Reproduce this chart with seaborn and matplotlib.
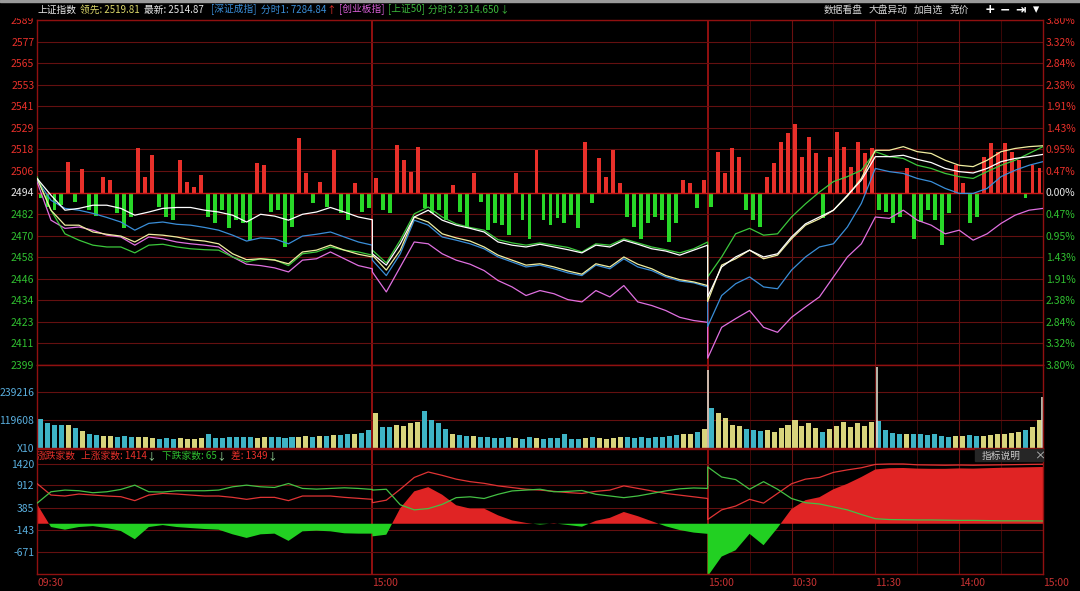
import numpy as np
import pandas as pd
import seaborn as sns
import matplotlib.pyplot as plt
from matplotlib.patches import Rectangle

# ---------------- data ----------------
# index lines: % change vs 2494, read every 10 minutes, 3 sessions x 25 points
line_minutes = [0, 10, 20, 30, 40, 50, 60, 70, 80, 90, 100, 110, 120,
                130, 140, 150, 160, 170, 180, 190, 200, 210, 220, 230, 240]

sh_index = [0.31, -0.06, -0.39, -0.35, -0.28, -0.28, -0.35, -0.50, -0.43, -0.35, -0.33, -0.33, -0.39,
            -0.43, -0.50, -0.65, -0.48, -0.52, -0.61, -0.48, -0.43, -0.33, -0.43, -0.54, -0.60,
            -1.35, -1.60, -1.13, -0.54, -0.39, -0.61, -0.72, -0.79, -0.87, -1.09, -1.16, -1.20, -1.14,
            -1.20, -1.26, -1.33, -1.16, -1.20, -1.05, -1.14, -1.24, -1.29, -1.38, -1.27, -1.16,
            -2.30, -1.64, -1.42, -1.27, -1.42, -1.35, -0.98, -0.69, -0.54, -0.39, -0.06, 0.27, 0.79,
            0.79, 0.82, 0.73, 0.66, 0.53, 0.46, 0.43, 0.53, 0.68, 0.75, 0.79, 0.84]
lead_index = [0.31, -0.39, -0.72, -0.72, -0.87, -0.92, -0.96, -1.09, -0.92, -0.94, -0.98, -1.04, -1.07,
              -1.13, -1.35, -1.48, -1.46, -1.49, -1.57, -1.31, -1.27, -1.16, -1.27, -1.36, -1.42,
              -1.38, -1.71, -1.27, -0.54, -0.65, -0.91, -1.00, -1.07, -1.20, -1.38, -1.49, -1.60, -1.57,
              -1.64, -1.73, -1.80, -1.57, -1.64, -1.42, -1.58, -1.68, -1.83, -1.92, -1.97, -2.05,
              -2.40, -1.60, -1.46, -1.27, -1.46, -1.38, -1.02, -0.72, -0.58, -0.39, -0.08, 0.31, 0.93,
              0.93, 1.01, 0.90, 0.86, 0.71, 0.60, 0.57, 0.71, 0.90, 0.97, 1.01, 1.03]
sz_index = [0.27, -0.17, -0.35, -0.39, -0.46, -0.55, -0.65, -0.83, -0.68, -0.65, -0.70, -0.72, -0.77,
            -0.83, -0.94, -1.07, -1.00, -1.02, -1.13, -0.96, -0.92, -0.87, -0.98, -1.09, -1.16,
            -1.49, -1.83, -1.35, -0.61, -0.72, -0.98, -1.05, -1.13, -1.24, -1.42, -1.53, -1.64, -1.60,
            -1.68, -1.77, -1.83, -1.60, -1.68, -1.46, -1.64, -1.72, -1.86, -1.95, -1.99, -2.08,
            -2.95, -2.27, -2.01, -1.86, -2.08, -2.12, -1.71, -1.42, -1.20, -1.13, -0.76, -0.24, 0.53,
            0.46, 0.42, 0.31, 0.24, 0.09, -0.02, -0.02, 0.09, 0.35, 0.49, 0.60, 0.68]
cyb_index = [0.24, -0.61, -0.79, -0.76, -0.83, -0.94, -0.98, -1.16, -0.98, -1.02, -1.09, -1.13, -1.16,
             -1.20, -1.42, -1.58, -1.61, -1.66, -1.75, -1.49, -1.46, -1.31, -1.46, -1.61, -1.68,
             -1.75, -2.19, -1.64, -1.09, -1.13, -1.35, -1.49, -1.58, -1.72, -1.94, -2.08, -2.27, -2.16,
             -2.23, -2.36, -2.41, -2.16, -2.30, -2.05, -2.41, -2.49, -2.60, -2.75, -2.82, -2.86,
             -3.65, -2.97, -2.78, -2.60, -2.97, -3.08, -2.75, -2.52, -2.30, -1.86, -1.42, -1.13, -0.54,
             -0.57, -0.39, -0.61, -0.72, -0.91, -0.83, -1.05, -0.91, -0.68, -0.50, -0.39, -0.35]
sz50_index = [0.35, -0.39, -0.91, -1.05, -1.16, -1.20, -1.20, -1.33, -1.16, -1.14, -1.20, -1.24, -1.26,
              -1.27, -1.42, -1.53, -1.46, -1.48, -1.61, -1.35, -1.31, -1.20, -1.27, -1.31, -1.38,
              -1.27, -1.55, -1.05, -0.47, -0.32, -0.54, -0.69, -0.77, -0.83, -1.04, -1.11, -1.16, -1.11,
              -1.16, -1.21, -1.31, -1.13, -1.16, -1.02, -1.11, -1.20, -1.26, -1.33, -1.24, -1.09,
              -1.86, -1.42, -0.91, -0.79, -0.94, -0.91, -0.54, -0.25, 0.01, 0.24, 0.35, 0.49, 0.90,
              0.79, 0.75, 0.60, 0.53, 0.42, 0.35, 0.31, 0.46, 0.60, 0.71, 0.86, 1.01]

# red/green strength bars (% units), 5-minute bins, 48 per session
strength_bars = [
    -0.13, -0.32, -0.39, -0.28, 0.68, -0.21, 0.51, -0.39, -0.52, 0.35, 0.27, -0.46,
    -0.79, -0.54, 0.97, 0.35, 0.82, -0.32, -0.54, -0.61, 0.71, 0.24, 0.13, 0.38,
    -0.54, -0.68, -0.39, -0.79, -0.61, -0.68, -1.05, 0.64, 0.60, -0.43, -0.39, -1.20,
    -0.76, 1.19, 0.42, -0.24, 0.24, -0.32, 0.93, -0.46, -0.61, 0.20, -0.43, -0.35,
    0.31, -0.39, -0.45, 1.05, 0.71, 0.46, 1.01, -0.35, -0.46, -0.39, -0.61, 0.16,
    -0.43, -0.79, 0.42, -0.21, -0.83, -0.68, -0.72, -0.94, 0.42, -0.61, -1.02, 0.93,
    -0.61, -0.72, -0.57, -0.68, -0.50, -0.79, 1.12, -0.24, 0.75, 0.35, 0.93, 0.20,
    -0.54, -0.76, -1.02, -0.68, -0.54, -0.61, -1.09, -0.68, 0.27, 0.20, -0.35, 0.27,
    -0.32, 0.90, 0.42, 0.97, 0.79, -0.39, -0.61, -0.76, 0.35, 0.64, 1.12, 1.30,
    1.52, 0.79, 1.23, 0.86, -0.57, 0.79, 1.34, 1.01, 0.57, 1.12, 0.86, 0.97,
    -0.39, -0.43, -0.68, -0.54, 0.53, -1.02, -0.65, -0.39, -0.61, -1.16, -0.46, 0.60,
    0.20, -0.68, -0.54, 0.79, 1.08, 0.90, 1.08, 0.90, 0.71, -0.13, 0.60, 0.53]

# volume (thousands, X10), 5-minute bins
volume_k = [
    125, 105, 100, 98, 100, 85, 72, 62, 55, 52, 50, 48,
    50, 47, 48, 45, 42, 40, 44, 40, 42, 38, 40, 42,
    60, 42, 44, 46, 45, 48, 46, 44, 46, 45, 48, 44,
    46, 45, 50, 48, 52, 50, 55, 54, 58, 60, 65, 75,
    150, 90, 88, 100, 95, 105, 110, 160, 120, 105, 80, 62,
    55, 52, 50, 48, 46, 44, 42, 45, 42, 40, 45, 42,
    40, 44, 42, 60, 40, 40, 42, 45, 44, 40, 42, 48,
    45, 43, 46, 44, 48, 45, 50, 55, 58, 60, 68, 80,
    170, 150, 130, 100, 95, 80, 75, 72, 75, 70, 85, 100,
    120, 95, 105, 85, 70, 80, 95, 110, 90, 105, 95, 110,
    115, 75, 65, 62, 60, 58, 62, 55, 58, 50, 48, 52,
    50, 55, 52, 50, 55, 58, 62, 65, 70, 75, 90, 120]
spike_minutes = [0, 480, 601, 719]
spike_volume_k = [218, 335, 345, 218]

# advancers / decliners, every 10 minutes
up_count = [956, 682, 659, 706, 682, 659, 643, 549, 682, 721, 706, 682, 659,
            659, 627, 580, 627, 627, 549, 659, 659, 659, 627, 604, 580,
            500, 560, 820, 1100, 1230, 1150, 1060, 1000, 960, 900, 860, 820, 800,
            770, 740, 720, 770, 800, 900, 840, 780, 720, 680, 640, 600,
            100, 330, 420, 580, 490, 720, 950, 1060, 1100, 1220, 1280, 1330, 1410,
            1420, 1420, 1400, 1395, 1390, 1395, 1390, 1395, 1400, 1405, 1410, 1414]
down_count = [487, 760, 800, 784, 737, 760, 815, 917, 760, 753, 784, 784, 784,
              800, 878, 917, 878, 862, 956, 839, 823, 839, 854, 839, 815,
              800, 820, 450, 330, 360, 460, 620, 640, 600, 700, 780, 800, 820,
              760, 770, 790, 700, 660, 620, 660, 720, 780, 830, 850, 840,
              1350, 1110, 1050, 820, 1000, 820, 600, 500, 470, 400, 330, 220, 120,
              100, 95, 90, 90, 85, 80, 80, 75, 70, 70, 68, 65]

price_labels = ["2399", "2411", "2423", "2434", "2446", "2458", "2470", "2482", "2494",
                "2506", "2518", "2529", "2541", "2553", "2565", "2577", "2589"]
pct_labels = ["3.80%", "3.32%", "2.84%", "2.38%", "1.91%", "1.43%", "0.95%", "0.47%", "0.00%",
              "0.47%", "0.95%", "1.43%", "1.91%", "2.38%", "2.84%", "3.32%", "3.80%"]
volume_ticks = [0, 119608, 239216]
volume_labels = ["X10", "119608", "239216"]
breadth_ticks = [-671, -143, 385, 912, 1420]
time_ticks = [0, 240, 480, 540, 600, 660, 720]
time_labels = ["09:30", "15:00", "15:00", "10:30", "11:30", "14:00", "15:00"]

# ---------------- style ----------------
sns.set_theme(style="dark", rc={"figure.facecolor": "black", "axes.facecolor": "black",
                                "axes.grid": False, "savefig.facecolor": "black"})
plt.rcParams["font.family"] = ["Noto Sans CJK SC", "DejaVu Sans"]
plt.rcParams["axes.unicode_minus"] = False

RED, GREEN = "#e8302a", "#28d828"
GRID, DAYLINE = "#641010", "#b81414"
AXBLUE = "#5ab0e0"

W, H = 1080, 591
fig = plt.figure(figsize=(W / 100, H / 100), dpi=100)


def panel(top, bottom, left=37, right=1043):
    return fig.add_axes([left / W, 1 - bottom / H, (right - left) / W, (bottom - top) / H])


ax_p = panel(20, 365)
ax_v = panel(365, 448)
ax_b = panel(449, 574)

line_x = [d * 240 + m for d in range(3) for m in line_minutes]
bar_x = [d * 240 + 2.5 + 5 * k for d in range(3) for k in range(48)]

for ax in (ax_p, ax_v, ax_b):
    ax.set_xlim(0, 720)
    for s in ax.spines.values():
        s.set_color("#901010")
        s.set_linewidth(1)
    ax.tick_params(length=0, labelsize=7.5, pad=2)
    for xv in (510, 570, 630, 690):
        ax.axvline(xv, color="#3c0808", lw=0.7, zorder=0)
    for xv in (540, 600, 660):
        ax.axvline(xv, color="#6a1010", lw=0.8, zorder=0)
    for xv in (240, 480):
        ax.axvline(xv, color=DAYLINE, lw=1.1, zorder=0)

# ---- price panel ----
grid_pct = np.linspace(-3.8, 3.8, 17)
ax_p.set_ylim(-3.8, 3.8)
for yv in grid_pct:
    ax_p.axhline(yv, color=GRID, lw=0.8, zorder=0)
ax_p.bar(bar_x, strength_bars, width=2.8, linewidth=0,
         color=[RED if v > 0 else GREEN for v in strength_bars], zorder=1)
ax_p.axhline(0, color="#c81818", lw=1.0, zorder=2)

series = {"创业板指": cyb_index, "深证成指": sz_index, "上证50": sz50_index,
          "领先": lead_index, "上证指数": sh_index}
df = pd.DataFrame({"x": line_x * len(series),
                   "pct": sum(series.values(), []),
                   "name": np.repeat(list(series), len(line_x))})
sns.lineplot(data=df, x="x", y="pct", hue="name", hue_order=list(series),
             palette=["#e070e0", "#3a8ed8", "#3cc83c", "#f0eea0", "#ffffff"],
             estimator=None, sort=False, linewidth=0.9, legend=False, ax=ax_p, zorder=3)
ax_p.set_xlabel("")
ax_p.set_ylabel("")
ax_p.set_xticks([])
ax_p.set_yticks(grid_pct)
lbls = ax_p.set_yticklabels(price_labels)
for i, t in enumerate(lbls):
    t.set_color("#e8e8e8" if i == 8 else (RED if i > 8 else "#30c030"))

ax_r = ax_p.twinx()
ax_r.set_ylim(-3.8, 3.8)
ax_r.set_yticks(grid_pct)
rl = ax_r.set_yticklabels(pct_labels)
for i, t in enumerate(rl):
    t.set_color("#e8e8e8" if i == 8 else (RED if i > 8 else "#30c030"))
ax_r.tick_params(length=0, labelsize=7.5, pad=2)
ax_r.grid(False)
for s in ax_r.spines.values():
    s.set_visible(False)

# ---- volume panel ----
ax_v.set_ylim(0, 355000)
for yv in volume_ticks[1:]:
    ax_v.axhline(yv, color=GRID, lw=0.8, zorder=0)
vol_colors = ["#d8d47c" if v > 0 else "#3eb4c6" for v in strength_bars]
ax_v.bar(bar_x, np.array(volume_k) * 1000, width=3.6, linewidth=0, color=vol_colors, zorder=1)
ax_v.vlines(spike_minutes, 0, np.array(spike_volume_k) * 1000, color="#d8d8c8", lw=1.2, zorder=2)
ax_v.set_xticks([])
ax_v.set_yticks(volume_ticks)
ax_v.set_yticklabels(volume_labels, color=AXBLUE)

# ---- breadth panel ----
ax_b.set_ylim(-1194, 1776)
for yv in breadth_ticks:
    ax_b.axhline(yv, color=GRID, lw=0.8, zorder=0)
bx = np.array(line_x, dtype=float)
diff = np.array(up_count) - np.array(down_count)
ax_b.fill_between(bx, 0, diff, where=diff >= 0, interpolate=True, color="#e02424", lw=0, zorder=2)
ax_b.fill_between(bx, 0, diff, where=diff <= 0, interpolate=True, color="#22d022", lw=0, zorder=2)
dfb = pd.DataFrame({"x": line_x * 2, "n": up_count + down_count,
                    "kind": ["上涨家数"] * len(line_x) + ["下跌家数"] * len(line_x)})
sns.lineplot(data=dfb, x="x", y="n", hue="kind", palette=["#e03434", "#44c044"],
             estimator=None, sort=False, linewidth=0.9, legend=False, ax=ax_b, zorder=3)
ax_b.set_xlabel("")
ax_b.set_ylabel("")
ax_b.set_yticks(breadth_ticks)
ax_b.set_yticklabels([str(v) for v in breadth_ticks], color=AXBLUE)
ax_b.set_xticks(time_ticks)
xl = ax_b.set_xticklabels(time_labels, color="#c83232")
for t in xl:
    t.set_ha("left")
ax_b.tick_params(axis="x", pad=3)

# ---- header / overlays ----
fig.add_artist(Rectangle((0, 1 - 17 / H), 1, 17 / H, transform=fig.transFigure,
                         color="black", zorder=5))
fig.add_artist(Rectangle((0, 1 - 2 / H), 1, 2 / H, transform=fig.transFigure,
                         color="#9a9a9a", zorder=6))
fig.add_artist(Rectangle((975 / W, 1 - 461 / H), 68 / W, 12 / H, transform=fig.transFigure,
                         color="#262626", zorder=5))

renderer = fig.canvas.get_renderer()


def text_run(x, y, pieces, size=7):
    for s, c, gap in pieces:
        t = fig.text(x / W, 1 - y / H, s, color=c, fontsize=size, ha="left", va="center", zorder=7)
        x += t.get_window_extent(renderer).width + gap


text_run(37, 9.5, [("上证指数", "#e8e8e8", 4), ("领先: 2519.81", "#dcd86a", 4),
                   ("最新: 2514.87", "#e8e8e8", 8), ("[深证成指]", "#3a8ed8", 4),
                   ("分时1: 7284.84", "#3a8ed8", 0), ("↑", RED, 3),
                   ("[创业板指]", "#d860d8", 3), ("[上证50]", "#3cb83c", 4),
                   ("分时3: 2314.650", "#3cb83c", 0), ("↓", "#3cb83c", 0)])
text_run(824, 9.5, [("数据看盘", "#d8d8d8", 6), ("大盘异动", "#d8d8d8", 6),
                    ("加自选", "#d8d8d8", 6), ("竞价", "#d8d8d8", 0)])
for s, xp in (("+", 985), ("−", 1000), ("⇥", 1015), ("▾", 1033)):
    fig.text(xp / W, 1 - 9.5 / H, s, color="white", fontsize=9, fontweight="bold",
             ha="left", va="center", zorder=7, family=["DejaVu Sans"])

text_run(37, 456, [("涨跌家数", RED, 5), ("上涨家数: 1414", RED, 0), ("↓", "#9ee09e", 5),
                   ("下跌家数: 65", "#30c030", 0), ("↓", "#9ee09e", 5),
                   ("差: 1349", RED, 0), ("↓", "#9ee09e", 0)])
fig.text(982 / W, 1 - 455.5 / H, "指标说明", color="#c8c8c8", fontsize=7, ha="left",
         va="center", zorder=7)
fig.text(1034 / W, 1 - 455.5 / H, "×", color="#c8c8c8", fontsize=8, ha="left",
         va="center", zorder=7)

fig.savefig("out.png", dpi=100, facecolor="black")
